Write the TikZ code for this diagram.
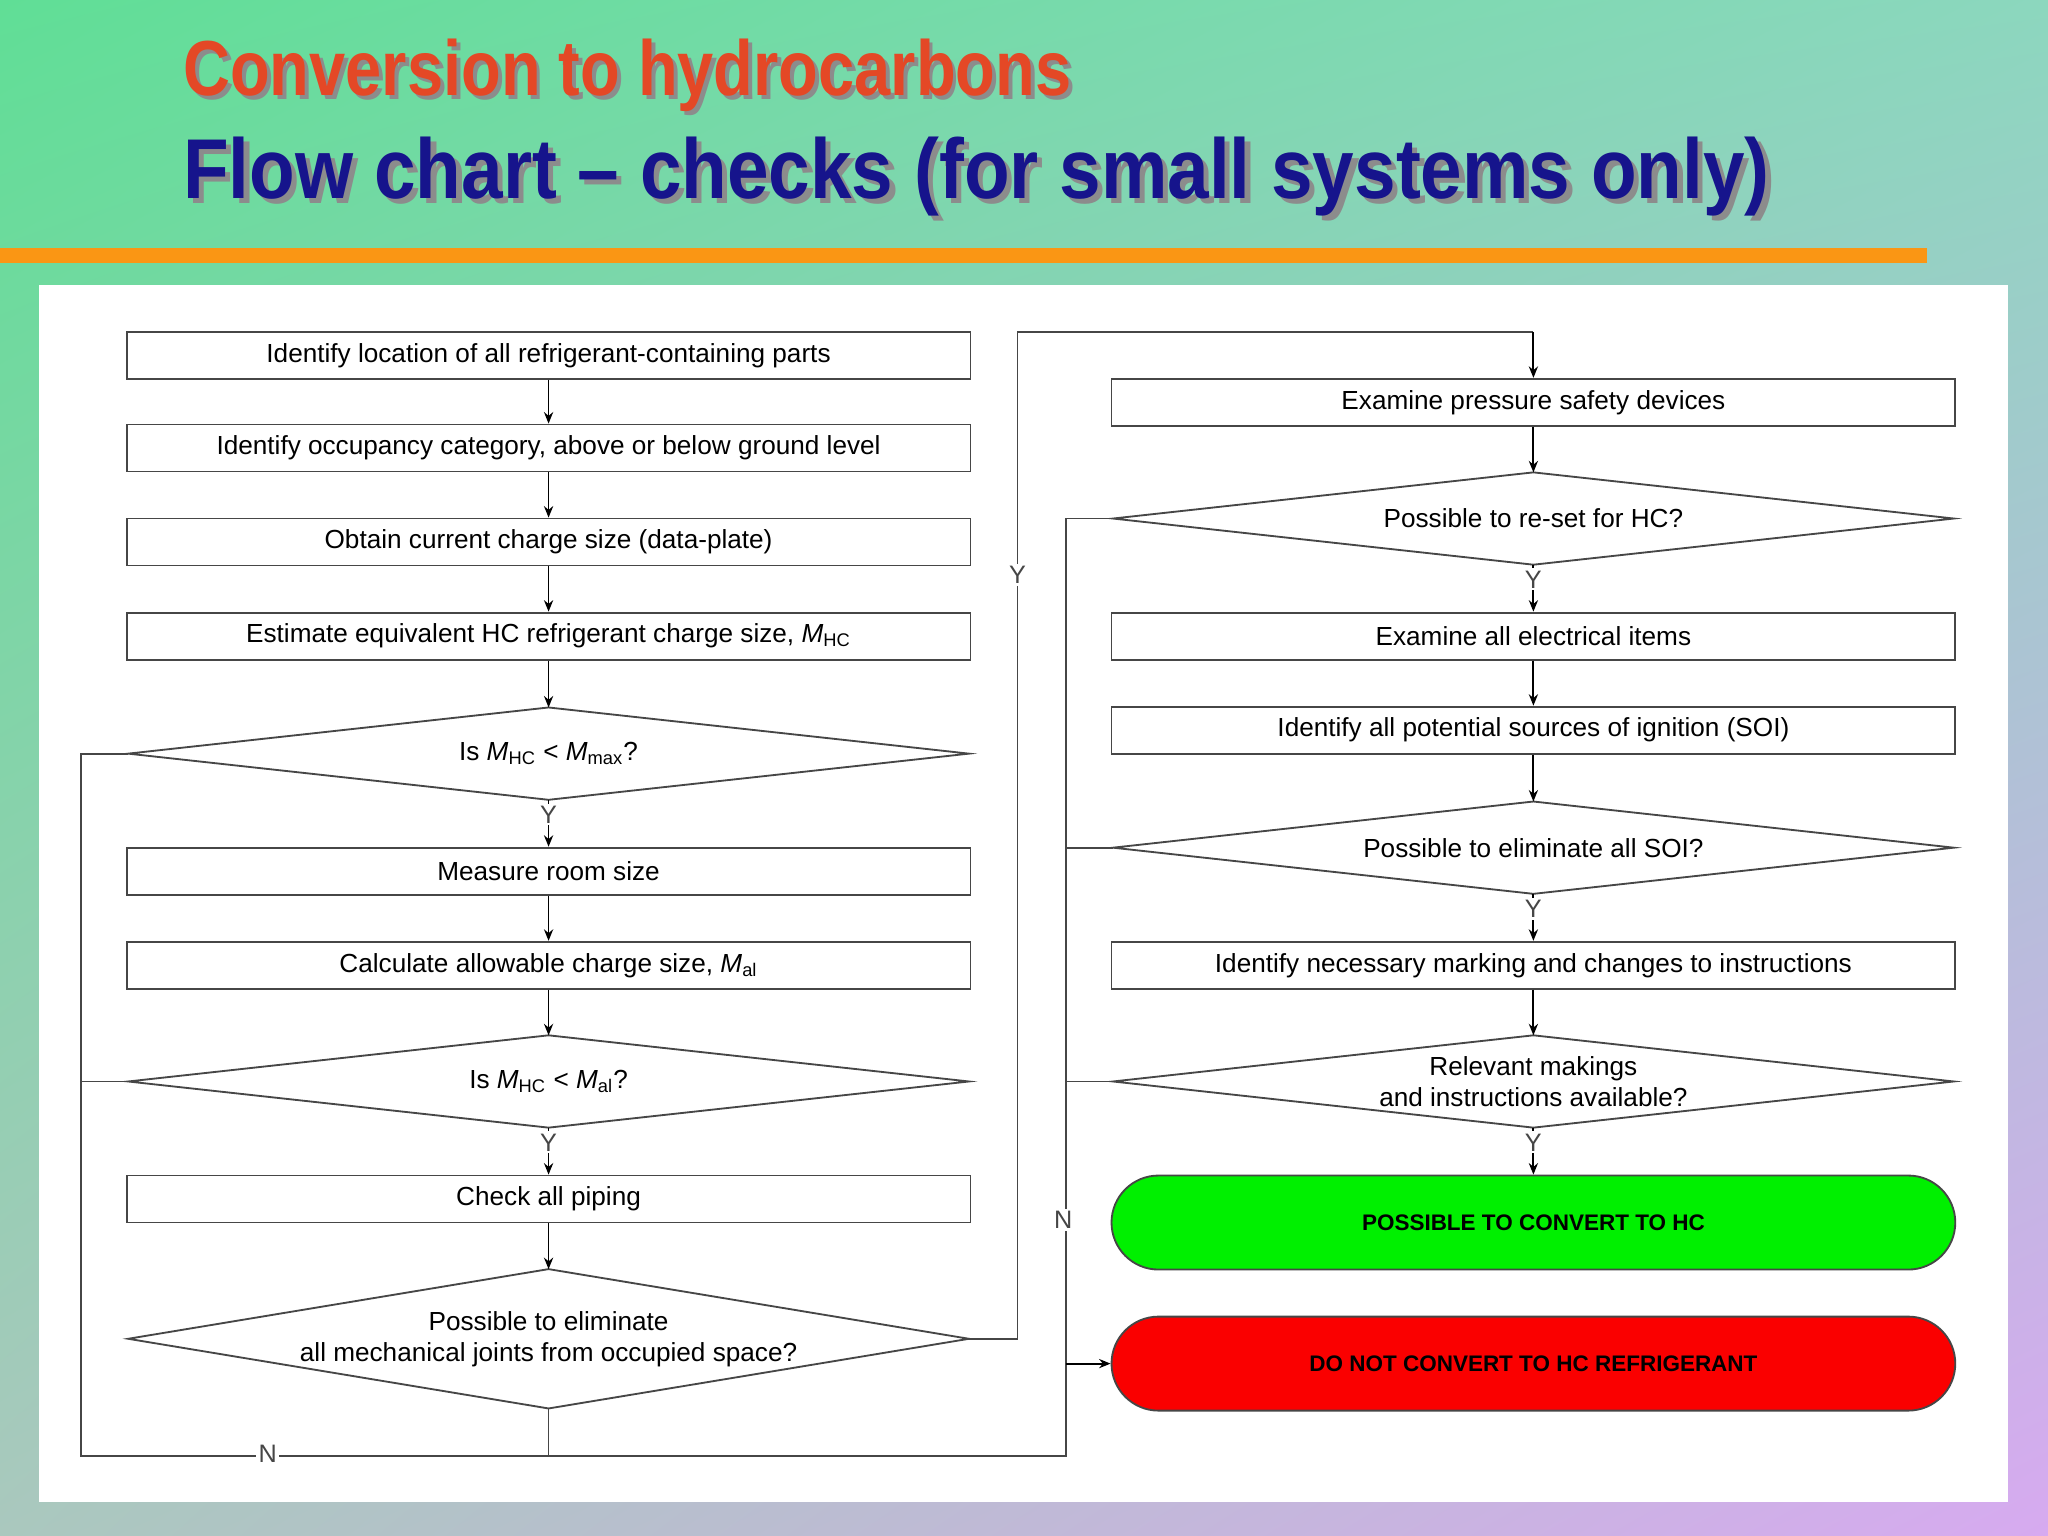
\documentclass[tikz,border=0pt]{standalone}
\usepackage{fontspec}
\setmainfont{Liberation Sans}
\usetikzlibrary{arrows.meta,shadings}
\definecolor{bgA}{RGB}{96,222,150}
\definecolor{bgB}{RGB}{140,215,190}
\definecolor{bgC}{RGB}{170,200,190}
\definecolor{bgD}{RGB}{215,170,240}
\definecolor{tred}{RGB}{228,72,38}
\definecolor{tblue}{RGB}{22,20,140}
\definecolor{orl}{RGB}{250,150,20}
\definecolor{ln}{RGB}{70,70,70}
\begin{document}
\begin{tikzpicture}[x=0.02cm,y=-0.02cm,
  box/.style={draw=ln,line width=0.8pt,minimum width=646*0.02cm,minimum height=0.72cm,inner sep=0pt,font=\fontsize{11.4}{13.5}\selectfont,fill=white},
  dia/.style={draw=none,minimum width=643*0.02cm,minimum height=1.4cm,inner sep=0pt,font=\fontsize{11.4}{13.5}\selectfont,align=center},
  term/.style={draw=ln,line width=0.8pt,rounded corners=0.72cm,minimum width=646*0.02cm,minimum height=1.44cm,font=\fontsize{9.8}{11}\selectfont\bfseries},
  ar/.style={draw=black,line width=0.8pt,-{Stealth[length=5pt,width=4pt]}},
  cn/.style={draw=ln,line width=0.8pt},
  lab/.style={font=\fontsize{11}{13}\selectfont,text=ln,inner sep=1pt}]
\useasboundingbox (0,0) rectangle (1568,1176);
\shade[upper left=bgA,upper right=bgB,lower left=bgC,lower right=bgD] (0,0) rectangle (1568,1176);
% titles
\node[anchor=base west,text=black!45,inner sep=0] at (143,76) {\resizebox{13.6cm}{\height}{\fontsize{34}{36}\selectfont\bfseries Conversion to hydrocarbons}};
\node[anchor=base west,text=tred,inner sep=0] (t1) at (140,73) {\resizebox{13.6cm}{\height}{\fontsize{34}{36}\selectfont\bfseries Conversion to hydrocarbons}};
\node[anchor=base west,text=black!45,inner sep=0] at (144,156) {\resizebox{24.3cm}{\height}{\fontsize{37}{40}\selectfont\bfseries Flow chart – checks (for small systems only)}};
\node[anchor=base west,text=tblue,inner sep=0] (t2) at (140,152) {\resizebox{24.3cm}{\height}{\fontsize{37}{40}\selectfont\bfseries Flow chart – checks (for small systems only)}};
\fill[orl] (0,190) rectangle (1475,201);
\fill[white] (30,218) rectangle (1537,1150);
% left column
\node[box] (a1) at (420,272) {Identify location of all refrigerant-containing parts};
\node[box] (a2) at (420,343) {Identify occupancy category, above or below ground level};
\node[box] (a3) at (420,415) {Obtain current charge size (data-plate)};
\node[box] (a4) at (420,487) {Estimate equivalent HC refrigerant charge size, \textit{M}\textsubscript{HC}};
\node[dia] (d1) at (420,577) {Is \textit{M}\textsubscript{HC} < \textit{M}\textsubscript{max}?};
\node[box] (a5) at (420,667) {Measure room size};
\node[box] (a6) at (420,739) {Calculate allowable charge size, \textit{M}\textsubscript{al}};
\node[dia] (d2) at (420,828) {Is \textit{M}\textsubscript{HC} < \textit{M}\textsubscript{al}?};
\node[box] (a7) at (420,918) {Check all piping};
\node[dia,minimum height=2.12cm] (d3) at (420,1025) {Possible to eliminate\\all mechanical joints from occupied space?};
% right column
\node[box] (b1) at (1174,308) {Examine pressure safety devices};
\node[dia] (e1) at (1174,397) {Possible to re-set for HC?};
\node[box] (b2) at (1174,487) {Examine all electrical items};
\node[box] (b3) at (1174,559) {Identify all potential sources of ignition (SOI)};
\node[dia] (e2) at (1174,649) {Possible to eliminate all SOI?};
\node[box] (b4) at (1174,739) {Identify necessary marking and changes to instructions};
\node[dia] (e3) at (1174,828) {Relevant makings\\and instructions available?};
\node[term,fill={rgb,255:red,0;green,240;blue,0}] (g) at (1174,936) {POSSIBLE TO CONVERT TO HC};
\node[term,fill={rgb,255:red,250;green,0;blue,0}] (r) at (1174,1044) {DO NOT CONVERT TO HC REFRIGERANT};
\foreach \d in {d1,d2,d3,e1,e2,e3}
  \draw[cn] (\d.west) -- (\d.north) -- (\d.east) -- (\d.south) -- cycle;
% vertical arrows
\foreach \u/\v in {a1/a2,a2/a3,a3/a4,a4/d1,d1/a5,a5/a6,a6/d2,d2/a7,a7/d3,b1/e1,e1/b2,b2/b3,b3/e2,e2/b4,b4/e3,e3/g}
  \draw[ar] (\u.south) -- (\v.north);
\foreach \d in {d1,d2,e1,e2,e3}
  \node[lab,fill=white,anchor=north] at ([yshift=-0.05cm]\d.south) {Y};
% Y path
\coordinate (c1) at (779,1025);
\coordinate (c2) at (779,254);
\coordinate (c3) at (1174,254);
\draw[cn] (d3.east) -- (c1) -- (c2) -- (c3);
\draw[ar] (c3) -- (b1.north);
\node[lab,fill=white] at (779,440) {Y};
% N paths
\coordinate (l1) at (62,577);
\coordinate (l2) at (62,828);
\coordinate (l3) at (62,1115);
\coordinate (m3) at (420,1115);
\coordinate (r3) at (816,1115);
\coordinate (rt) at (816,397);
\coordinate (r2) at (816,649);
\coordinate (r1) at (816,828);
\coordinate (rr) at (816,1044);
\draw[cn] (d1.west) -- (l1) -- (l3) -- (r3) -- (rt) -- (e1.west);
\draw[cn] (d2.west) -- (l2);
\draw[cn] (d3.south) -- (m3);
\draw[cn] (r2) -- (e2.west);
\draw[cn] (r1) -- (e3.west);
\draw[ar] (rr) -- (r.west);
\node[lab,fill=white] at (205,1113) {N};
\node[lab,fill=white] at (814,934) {N};
\end{tikzpicture}
\end{document}
